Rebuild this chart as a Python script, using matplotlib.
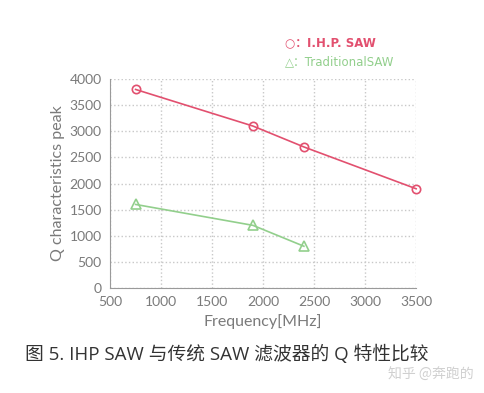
import matplotlib.pyplot as plt

# data
freq_ihp = [750, 1900, 2400, 3500]
q_ihp = [3800, 3100, 2700, 1900]
freq_trad = [750, 1900, 2400]
q_trad = [1600, 1200, 800]
xticks = [500, 1000, 1500, 2000, 2500, 3000, 3500]
yticks = [0, 500, 1000, 1500, 2000, 2500, 3000, 3500, 4000]

red = '#e2506f'
green = '#92cf8c'
grey = '#7a7a7a'

plt.rcParams['font.family'] = ['Lato', 'DejaVu Sans']

fig = plt.figure(figsize=(4.85, 3.93), dpi=100)
ax = fig.add_axes([0.227, 0.267, 0.631, 0.532])

ax.plot(freq_ihp, q_ihp, color=red, lw=1.2, marker='o', ms=6,
        mfc='none', mec=red, mew=1.2, clip_on=False)
ax.plot(freq_trad, q_trad, color=green, lw=1.2, marker='^', ms=7,
        mfc='none', mec=green, mew=1.2, clip_on=False)

ax.set_xlim(500, 3500)
ax.set_ylim(0, 4000)
ax.set_xticks(xticks)
ax.set_yticks(yticks)
ax.grid(True, color='#c8c8c8', ls=':', lw=1)
ax.tick_params(length=0, labelsize=10, colors=grey, pad=6)
for s in ['top', 'right']:
    ax.spines[s].set_visible(False)
for s in ['left', 'bottom']:
    ax.spines[s].set_color('#9a9a9a')

ax.set_xlabel('Frequency[MHz]', fontsize=11.5, color=grey, labelpad=4)
ax.set_ylabel('Q characteristics peak', fontsize=11.5, color=grey, labelpad=3)

fig.text(0.588, 0.882, '○：I.H.P. SAW', color=red, fontsize=8.5,
         fontweight='bold', family=['DejaVu Sans', 'Noto Sans CJK SC'])
fig.text(0.588, 0.833, '△：TraditionalSAW', color=green, fontsize=8.5,
         family=['DejaVu Sans', 'Noto Sans CJK SC'])

fig.text(0.052, 0.083, '图 5. IHP SAW 与传统 SAW 滤波器的 Q 特性比较', fontsize=13.5,
         color='#333333', family=['Open Sans', 'Noto Sans CJK SC'])
fig.text(0.80, 0.035, '知乎 @奔跑的', fontsize=10, color='#d0d0d0',
         family=['Noto Sans CJK SC'])

fig.savefig('out.png', dpi=100)
